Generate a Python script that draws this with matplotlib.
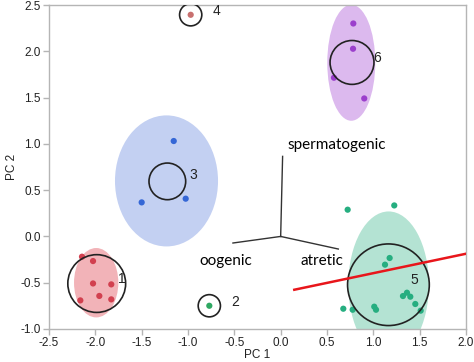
import matplotlib
matplotlib.use("Agg")
import matplotlib.pyplot as plt
from matplotlib.patches import Ellipse, Circle

# ---- data ----
g1_x = [-2.144, -2.025, -2.025, -1.828, -1.957, -2.162, -1.828]
g1_y = [-0.219, -0.266, -0.508, -0.518, -0.643, -0.691, -0.680]
g2_x = [-0.770]
g2_y = [-0.749]
g3_x = [-1.154, -1.500, -1.025]
g3_y = [1.031, 0.368, 0.408]
g4_x = [-0.971]
g4_y = [2.395]
g5_x = [0.723, 1.226, 1.176, 1.126, 1.320, 1.363, 1.399, 1.453, 1.511, 0.676, 0.777, 1.010, 1.029]
g5_y = [0.289, 0.335, -0.233, -0.305, -0.644, -0.608, -0.651, -0.730, -0.802, -0.781, -0.792, -0.759, -0.792]
g6_x = [0.784, 0.781, 0.575, 0.902]
g6_y = [2.301, 2.028, 1.715, 1.491]

# ellipse: (cx, cy, width, height)
ell_1 = (-1.991, -0.500, 0.478, 0.750)
ell_3 = (-1.232, 0.600, 1.112, 1.416)
ell_5 = (1.165, -0.520, 0.870, 1.580)
ell_6 = (0.762, 1.877, 0.518, 1.254)

# circles: (cx, cy, r)
circ_1 = (-1.985, -0.509, 0.312)
circ_2 = (-0.770, -0.749, 0.12)
circ_3 = (-1.223, 0.595, 0.198)
circ_4 = (-0.971, 2.395, 0.12)
circ_5 = (1.163, -0.522, 0.441)
circ_6 = (0.770, 1.880, 0.237)

group_labels = ["1", "2", "3", "4", "5", "6"]
label_x = [-1.716, -0.493, -0.943, -0.69, 1.446, 1.036]
label_y = [-0.457, -0.708, 0.66, 2.44, -0.467, 1.93]

# biplot arrows (from origin)
bip_names = ["spermatogenic", "oogenic", "atretic"]
bip_x = [0.021, -0.515, 0.622]
bip_y = [0.865, -0.071, -0.136]
bip_text_x = [0.073, -0.878, 0.219]
bip_text_y = [0.991, -0.27, -0.262]

red_line_x = [0.147, 2.0]
red_line_y = [-0.576, -0.187]

x_ticks = [-2.5, -2.0, -1.5, -1.0, -0.5, 0.0, 0.5, 1.0, 1.5, 2.0]
y_ticks = [-1.0, -0.5, 0.0, 0.5, 1.0, 1.5, 2.0, 2.5]

# ---- plot ----
fig = plt.figure(figsize=(4.74, 3.62), dpi=100)
ax = fig.add_axes([0.1034, 0.0912, 0.8797, 0.8948])
ax.set_xlim(-2.5, 2.0)
ax.set_ylim(-1.0, 2.5)

fills = [(ell_1, "#f2b3b8"), (ell_3, "#c3d0f2"), (ell_5, "#b4e3d3"), (ell_6, "#dcb9ee")]
for (cx, cy, w, h), c in fills:
    ax.add_patch(Ellipse((cx, cy), w, h, facecolor=c, edgecolor="none", zorder=1))

pts = [(g1_x, g1_y, "#d2404f"), (g2_x, g2_y, "#2fa862"), (g3_x, g3_y, "#3567d6"),
       (g4_x, g4_y, "#c8706f"), (g5_x, g5_y, "#26ae80"), (g6_x, g6_y, "#9b3fcc")]
for xs, ys, c in pts:
    ax.scatter(xs, ys, s=20, color=c, edgecolors="none", zorder=3)

for cx, cy, r in [circ_1, circ_2, circ_3, circ_4, circ_5, circ_6]:
    ax.add_patch(Circle((cx, cy), r, facecolor="none", edgecolor="#222222", lw=1.2, zorder=4))

for lab, lx, ly in zip(group_labels, label_x, label_y):
    ax.text(lx, ly, lab, fontsize=10, family="Liberation Sans", color="#222222",
            ha="center", va="center", zorder=5)

for bx, by in zip(bip_x, bip_y):
    ax.plot([0, bx], [0, by], color="#333333", lw=1.0, zorder=2)
for name, tx, ty in zip(bip_names, bip_text_x, bip_text_y):
    ax.text(tx, ty, name, fontsize=11, family="Lato", color="black",
            ha="left", va="center", zorder=5)

ax.plot(red_line_x, red_line_y, color="#e8161b", lw=1.8, zorder=5)

ax.set_xticks(x_ticks)
ax.set_yticks(y_ticks)
ax.set_xticklabels([f"{v:.1f}" for v in x_ticks])
ax.set_yticklabels([f"{v:.1f}" for v in y_ticks])
for s in ax.spines.values():
    s.set_color("#b5b5b5")
    s.set_linewidth(1.0)
ax.tick_params(direction="out", length=4, width=1.0, color="#b5b5b5",
               labelsize=8.5, labelcolor="#222222", pad=2)
for lbl in ax.get_xticklabels() + ax.get_yticklabels():
    lbl.set_family("Liberation Sans")
ax.set_xlabel("PC 1", fontsize=8.5, family="Liberation Sans", color="#222222", labelpad=0)
ax.set_ylabel("PC 2", fontsize=8.5, family="Liberation Sans", color="#222222", labelpad=2)

fig.savefig("out.png", dpi=100)
